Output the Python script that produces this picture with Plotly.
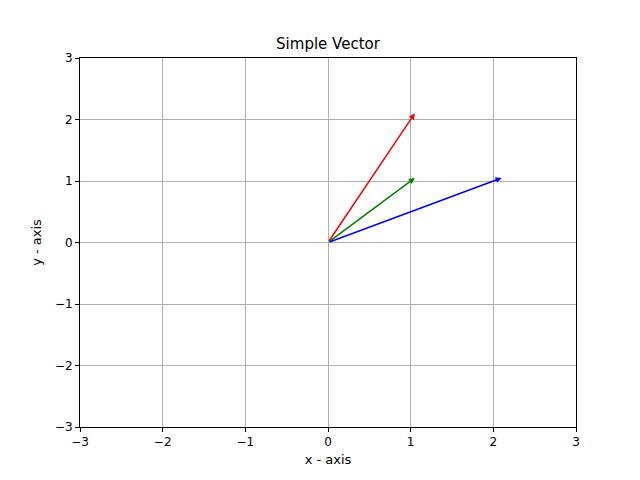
import plotly.graph_objects as go

origins_x = [0, 0, 0]
origins_y = [0, 0, 0]
vec_u = [1.05, 1.05, 2.1]
vec_v = [2.1, 1.05, 1.05]
colors = ["red", "green", "blue"]
ticks = [-3, -2, -1, 0, 1, 2, 3]
tick_text = ["\u22123", "\u22122", "\u22121", "0", "1", "2", "3"]

fig = go.Figure()
fig.add_trace(go.Scatter(x=[None], y=[None], showlegend=False))
for x0, y0, u, v, c in zip(origins_x, origins_y, vec_u, vec_v, colors):
    fig.add_annotation(x=x0 + u, y=y0 + v, ax=x0, ay=y0, xref="x", yref="y",
                       axref="x", ayref="y", showarrow=True, arrowhead=2,
                       arrowsize=0.8, arrowwidth=1.5, arrowcolor=c, text="")

axis_common = dict(range=[-3, 3], tickvals=ticks, ticktext=tick_text, showgrid=True,
                   gridcolor="#b0b0b0", gridwidth=1, zeroline=False, showline=True,
                   mirror=True, linecolor="black", linewidth=1, ticks="outside",
                   ticklen=4, tickcolor="black", tickfont=dict(size=12, color="black"))
fig.update_layout(
    width=640, height=480,
    title=dict(text="Simple Vector", x=0.5, xanchor="center", y=0.925, yanchor="middle",
               font=dict(size=15, color="black")),
    font=dict(family="DejaVu Sans", color="black"),
    plot_bgcolor="white", paper_bgcolor="white",
    margin=dict(l=72, r=72, t=50, b=61),
    xaxis=dict(title=dict(text="x - axis", font=dict(size=13), standoff=6), **axis_common),
    yaxis=dict(title=dict(text="y - axis", font=dict(size=13), standoff=10), **axis_common),
)
fig.write_html("out.html")
